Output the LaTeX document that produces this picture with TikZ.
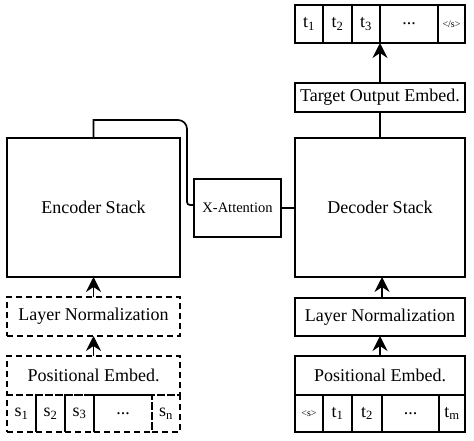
\documentclass[tikz,border=0pt]{standalone}
\usepackage{fontspec}
\setmainfont{Liberation Serif}
\usetikzlibrary{arrows.meta}
\begin{document}
\begin{tikzpicture}[x=1pt,y=-1pt,
  box/.style={draw, line width=1.7pt, inner sep=0pt, outer sep=0pt, font=\fontsize{18}{20}\selectfont},
  dbox/.style={box, dash pattern=on 6pt off 4pt},
  cell/.style={box, anchor=north west, minimum height=#1},
  arr/.style={line width=1.7pt, -{Stealth[length=15pt,width=15pt,inset=5pt]}},
  ln/.style={line width=1.7pt}]
\useasboundingbox (0,0) rectangle (474,441);
% main stacks
\node[box, minimum width=173pt, minimum height=139pt] (enc) at (93.5,207.5) {Encoder Stack};
\node[box, minimum width=170pt, minimum height=139pt] (dec) at (380,207.5) {Decoder Stack};
\node[box, minimum width=87pt, minimum height=58pt, font=\fontsize{14.5}{16}\selectfont] (xatt) at (237.5,208) {X-Attention};
% decoder output side
\node[box, minimum width=170pt, minimum height=29pt] (toe) at (380,97.5) {Target Output Embed.};
\node[cell=38pt, minimum width=28pt] (o1) at (295,5) {t\textsubscript{1}};
\node[cell=38pt, minimum width=29pt] (o2) at (323,5) {t\textsubscript{2}};
\node[cell=38pt, minimum width=28pt] (o3) at (352,5) {t\textsubscript{3}};
\node[cell=38pt, minimum width=58pt] (o4) at (380,5) {...};
\node[cell=38pt, minimum width=27pt, font=\fontsize{10}{10}\selectfont] (o5) at (438,5) {</s>};
% decoder input side
\node[box, minimum width=170pt, minimum height=38pt] (dln) at (380,317) {Layer Normalization};
\node[box, minimum width=170pt, minimum height=39pt] (dpe) at (380,375.5) {Positional Embed.};
\node[cell=37pt, minimum width=28pt, font=\fontsize{10}{10}\selectfont] (d1) at (295,395) {<s>};
\node[cell=37pt, minimum width=29pt] (d2) at (323,395) {t\textsubscript{1}};
\node[cell=37pt, minimum width=30pt] (d3) at (352,395) {t\textsubscript{2}};
\node[cell=37pt, minimum width=57pt] (d4) at (382,395) {...};
\node[cell=37pt, minimum width=26pt] (d5) at (439,395) {t\textsubscript{m}};
% encoder input side
\node[dbox, minimum width=173pt, minimum height=39pt] (eln) at (93.5,316.5) {Layer Normalization};
\node[dbox, minimum width=173pt, minimum height=39pt] (epe) at (93.5,375.5) {Positional Embed.};
\node[cell=37pt, dbox, anchor=north west, minimum width=29pt] (e1) at (7,395) {s\textsubscript{1}};
\node[cell=37pt, dbox, anchor=north west, minimum width=29pt] (e2) at (36,395) {s\textsubscript{2}};
\node[cell=37pt, dbox, anchor=north west, minimum width=29pt] (e3) at (65,395) {s\textsubscript{3}};
\node[cell=37pt, dbox, anchor=north west, minimum width=58pt] (e4) at (94,395) {...};
\node[cell=37pt, dbox, anchor=north west, minimum width=28pt] (e5) at (152,395) {s\textsubscript{n}};
\draw[ln] (e3.north east) -- (e3.south east);
% connectors
\draw[arr] (epe.north) -- (eln.south);
\draw[arr] (eln.north) -- (enc.south);
\draw[arr] (dpe.north) -- (dln.south);
\draw[arr] ([xshift=2pt]dln.north) -- ([xshift=2pt]dec.south);
\draw[ln] (dec.north) -- (toe.south);
\draw[arr] (toe.north) -- (o3.south east);
\coordinate (c1) at (187,120);
\coordinate (c2) at (187,205);
\draw[ln] (enc.north) -- (enc.north |- c1) [rounded corners=9pt] -- (c1) [rounded corners=3pt] -- (c2) [sharp corners] -- (c2 -| xatt.west);
\draw[ln] (xatt.east) -- (xatt.east -| dec.west);
\end{tikzpicture}
\end{document}
